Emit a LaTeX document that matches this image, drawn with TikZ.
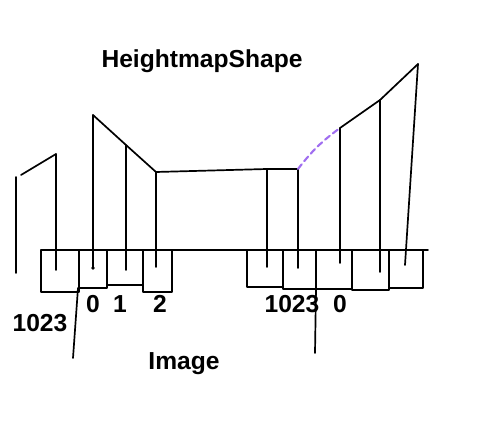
\documentclass[tikz,border=0pt]{standalone}
\usepackage{fontspec}
\setmainfont{Liberation Sans}
\usetikzlibrary{calc}

\definecolor{seampurple}{RGB}{160,110,240}

\tikzset{
	sketch/.style={line width=1.7pt, line cap=round, line join=round},
	seam/.style={sketch, seampurple, line width=2.1pt, dash pattern=on 6pt off 4pt},
	lbl/.style={font=\bfseries\fontsize{24.6}{27}\selectfont, anchor=base, inner sep=0pt}
}

\begin{document}
\begin{tikzpicture}[x=1pt,y=-1pt]
		\useasboundingbox (0,0) rectangle (482,438);
		
		% Heightmap samples (top) and their feet on the image row
		\foreach \name/\tx/\ty/\fx/\fy in {a/16/177/16/273, b/56/154/56/270, c/93/115/93/268,
			d/126/145/126/270, e/156/172/156/267, f/267/169/267/267, g/298/169/298/268,
			h/340/128/340/263, i/380/100/380/272, j/418/64/405/265}
		{
			\coordinate (top\name) at (\tx,\ty);
			\coordinate (foot\name) at (\fx,\fy);
		}
		\coordinate (lefttip) at (21,175);
		
		% Sample lines
		\foreach \name in {a,b,c,d,e,f,g,h,i,j}
		\draw[sketch] (top\name) -- (foot\name);
		\fill (footc) circle (1.8pt);
		
		% Shape outline
		\draw[sketch] (lefttip) -- (topb);
		\draw[sketch] (topc) -- (topd) -- (tope) -- (topf) -- (topg);
		\draw[seam] (topg) to[bend left=8] (toph);
		\draw[sketch] (toph) -- (topi) -- (topj);
		
		% Image row
		\coordinate (rowstart) at (41,250);
		\coordinate (rowend) at (428,250);
		\draw[sketch] (rowstart) -- (rowend);
		\foreach \l/\r/\b in {41/79/292, 79/107/288, 107/143/285, 143/172/292,
			247/283/287, 283/316/289, 316/352/289, 352/389/290, 389/423/288}
		\draw[sketch] (\l,250) |- (\r,\b) -- (\r,250);
		
		% Wrap marks
		\coordinate (wrapltop) at (78,288);
		\coordinate (wraplbot) at (73,358);
		\coordinate (wraprtop) at (316,289);
		\coordinate (wraprbot) at (315,353);
		\draw[sketch] (wrapltop) -- (wraplbot);
		\draw[sketch] (wraprtop) -- (wraprbot);
		
		% Labels
		\node[lbl] (shapelbl) at (202,68) {HeightmapShape};
		\node[lbl] (imagelbl) at (184,369) {Image};
		\node[lbl] (idxlast) at (40,331) {1023};
		\node[lbl] (idx0) at (93,313) {0};
		\node[lbl] (idx1) at (120,313) {1};
		\node[lbl] (idx2) at (160,313) {2};
		\node[lbl] (idxlastr) at (292,313) {1023};
		\node[lbl] (idx0r) at (340,313) {0};
	\end{tikzpicture}
\end{document}
